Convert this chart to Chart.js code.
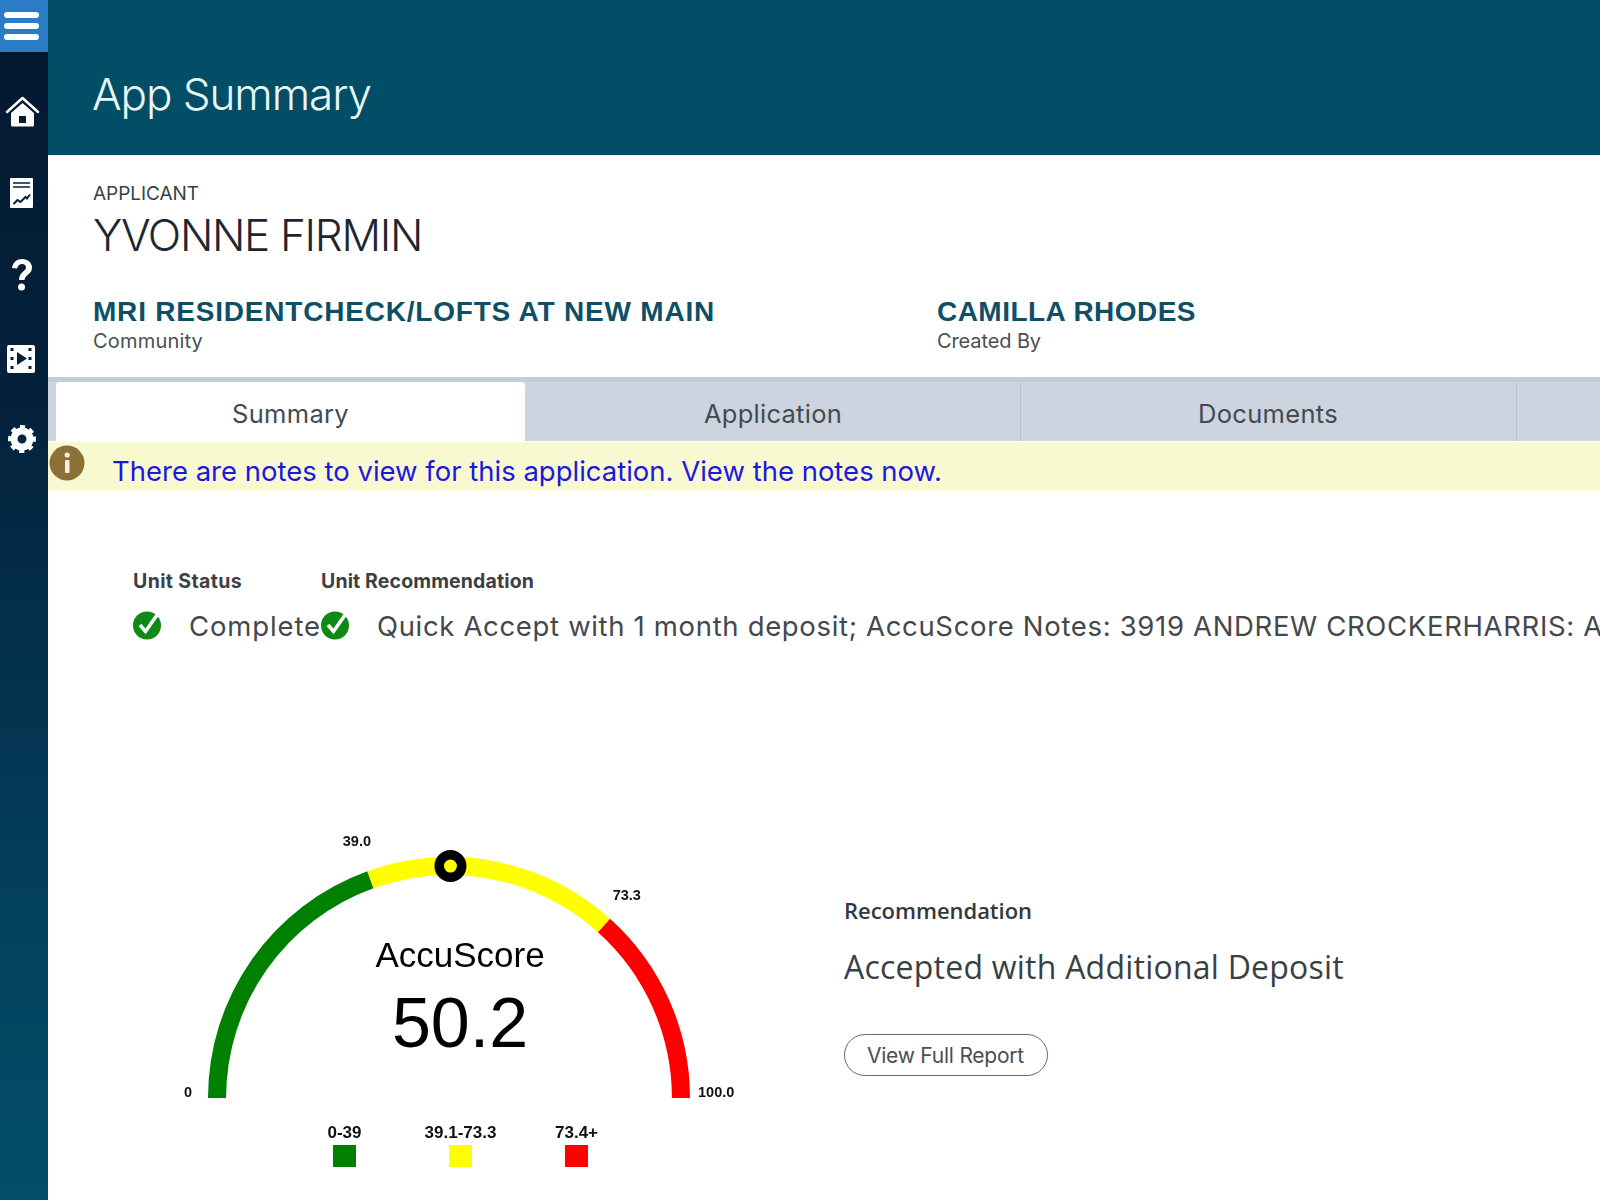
<!DOCTYPE html>
<html><head><meta charset="utf-8">
<script src="https://cdn.jsdelivr.net/npm/chart.js@4"></script>
<style>
html,body{margin:0;padding:0;background:#fff;width:1600px;height:1200px;overflow:hidden;font-family:Inter,"Open Sans",sans-serif}
.abs{position:absolute}
.t{position:absolute;white-space:nowrap;margin:0}
#side{left:0;top:0;width:48px;height:1200px;background:linear-gradient(180deg,#04182f 0%,#04223d 35%,#03405c 75%,#034f68 100%)}
#burger{left:0;top:0;width:48px;height:52px;background:#2a7cc7}
#burger i{position:absolute;left:4px;width:35px;height:6px;border-radius:3px;background:#fff}
#head{left:48px;top:0;width:1552px;height:155px;background:#024e66}
#tabs{left:48px;top:377px;width:1552px;height:64px;background:#cbd4df;border-top:5px solid #c3ced2;box-sizing:border-box}
.tab{position:absolute;top:382px;height:59px;border-right:1px solid #b9c3cf;box-sizing:border-box}
#note{left:48px;top:442px;width:1552px;height:49px;background:#f9f9d1}
#btn{left:844px;top:1034px;width:204px;height:42px;border:1.5px solid #5f6f78;border-radius:21px;box-sizing:border-box;background:#fff}
canvas{position:absolute;left:130px;top:800px}
</style></head>
<body>
<div class="abs" id="side"></div>
<div class="abs" id="burger"><i style="top:12px"></i><i style="top:23px"></i><i style="top:33.5px"></i></div>
<svg class="abs" style="left:0;top:85px" width="48" height="370" viewBox="0 85 48 370" fill="#fff">
  <path d="M7 112 L22.5 98 L38 112" fill="none" stroke="#fff" stroke-width="2.500" stroke-linecap="round" stroke-linejoin="round"/>
  <path d="M11 113 L22.5 103 L34 113 V125 a1.5 1.5 0 0 1-1.5 1.5 H12.5 a1.5 1.5 0 0 1-1.5-1.5 Z M19 116 v7 h7 v-7 Z" fill-rule="evenodd"/>
  <rect x="10" y="178" width="23" height="30" rx="1"/>
  <path d="M13 183 h17 M13 187 h17" stroke="#04203a" stroke-width="1.600" fill="none"/>
  <path d="M13.500 204 l4-4 3 2 5-5 1.500 1.500 3-4" fill="none" stroke="#04203a" stroke-width="2"/>
  <path d="M12 268 c1-6 5-9 10-9 c6 0 10 4 10 8.500 c0 7-7 7-7.500 12.500 h-5.500 c0-8 7-8.500 7-12.500 c0-2-1.500-3.500-4-3.500 c-2.500 0-4 1.500-5 4.500 Z"/>
  <circle cx="21.500" cy="287" r="3.500"/>
  <path d="M9 345 h24 a2 2 0 0 1 2 2 v24 a2 2 0 0 1-2 2 h-24 a2 2 0 0 1-2-2 v-24 a2 2 0 0 1 2-2 Z M10.500 348 v3 h3 v-3 Z M10.500 357 v3 h3 v-3 Z M10.500 366 v3 h3 v-3 Z M28.500 348 v3 h3 v-3 Z M28.500 357 v3 h3 v-3 Z M28.500 366 v3 h3 v-3 Z M17 352 v13 l10-6.500 Z" fill-rule="evenodd"/>
  <g transform="translate(22 439)" fill="none" stroke="#fff">
    <circle r="8" stroke-width="7"/>
    <circle r="11.500" stroke-width="5" stroke-dasharray="4.700 4.330" transform="rotate(-11)"/>
  </g>
</svg>
<div class="abs" id="head"></div>
<p class="t" data-w="279" style="left:92px;top:64px;line-height:60px;font-size:44px;font-weight:300;color:#e9f6f6">App Summary</p>
<p class="t" data-w="106" style="left:93px;top:183.500px;line-height:20px;font-size:19px;color:#3a3f44">APPLICANT</p>
<p class="t" data-w="329" style="left:93px;top:205px;line-height:60px;font-size:44px;font-weight:300;color:#1e2730">YVONNE FIRMIN</p>
<p class="t" data-w="622" style="left:93px;top:294px;line-height:36px;font-size:28px;font-weight:700;color:#0f4f66;font-family:'Liberation Sans'">MRI RESIDENTCHECK/LOFTS AT NEW MAIN</p>
<p class="t" data-w="259" style="left:937px;top:294px;line-height:36px;font-size:28px;font-weight:700;color:#0f4f66;font-family:'Liberation Sans'">CAMILLA RHODES</p>
<p class="t" data-w="110" style="left:93px;top:330px;line-height:22px;font-size:20px;color:#4a4f54">Community</p>
<p class="t" data-w="104" style="left:937px;top:330px;line-height:22px;font-size:20px;color:#4a4f54">Created By</p>
<div class="abs" id="tabs"></div>
<div class="abs" style="left:56px;top:382px;width:469px;height:60px;background:#fff;border-radius:3px 3px 0 0"></div>
<div class="tab" style="left:525px;width:496px"></div>
<div class="tab" style="left:1021px;width:496px"></div>
<p class="t" data-w="117" style="left:232px;top:398.500px;line-height:30px;font-size:25.5px;color:#444a50">Summary</p>
<p class="t" data-w="138" style="left:704px;top:398.500px;line-height:30px;font-size:25.5px;color:#444a50">Application</p>
<p class="t" data-w="140" style="left:1198px;top:398.500px;line-height:30px;font-size:25.5px;color:#444a50">Documents</p>
<div class="abs" id="note"></div>
<svg class="abs" style="left:49px;top:445px" width="36" height="36" viewBox="0 0 36 36"><circle cx="18" cy="18" r="17.500" fill="#8b7136"/><rect x="16" y="15" width="4.500" height="13" rx="1" fill="#f4efe0"/><circle cx="18.200" cy="10" r="2.600" fill="#f4efe0"/></svg>
<p class="t" data-w="830" style="left:112px;top:455px;line-height:32px;font-size:27.5px;color:#1c18de">There are notes to view for this application. View the notes now.</p>
<p class="t" data-w="109" style="left:133px;top:570px;line-height:22px;font-size:19.5px;font-weight:700;color:#3c4043">Unit Status</p>
<p class="t" data-w="213" style="left:321px;top:570px;line-height:22px;font-size:19.5px;font-weight:700;color:#3c4043">Unit Recommendation</p>
<svg class="abs" style="left:132px;top:610px" width="32" height="32" viewBox="0 0 32 32"><circle cx="15" cy="15.500" r="14" fill="#0f8a17"/><path d="M8 15 l5.500 6.500 L25 5" fill="none" stroke="#fff" stroke-width="3.500"/></svg>
<svg class="abs" style="left:320px;top:610px" width="32" height="32" viewBox="0 0 32 32"><circle cx="15" cy="15.500" r="14" fill="#0f8a17"/><path d="M8 15 l5.500 6.500 L25 5" fill="none" stroke="#fff" stroke-width="3.500"/></svg>
<p class="t" data-w="132" style="left:189px;top:609px;line-height:34px;font-size:27.5px;color:#44484c">Complete</p>
<p class="t" data-w="1226" style="left:377px;top:609px;line-height:34px;font-size:27.5px;color:#44484c">Quick Accept with 1 month deposit; AccuScore Notes: 3919 ANDREW CROCKERHARRIS: A</p>
<p class="t" data-w="188" style="left:844px;top:897px;line-height:26px;font-size:22px;font-weight:600;color:#33383c;font-family:'Open Sans'">Recommendation</p>
<p class="t" data-w="500" style="left:844px;top:945px;line-height:44px;font-size:32px;color:#3a3f44;font-family:'Open Sans'">Accepted with Additional Deposit</p>
<div class="abs" id="btn"></div>
<p class="t" data-w="157" style="left:867px;top:1044px;line-height:24px;font-size:21px;color:#4a4f54">View Full Report</p>

<canvas id="gauge" width="660" height="400" style="width:660px;height:400px"></canvas>
<script>
const bandLabels = ['0-39', '39.1-73.3', '73.4+'];
const bandValues = [39.0, 34.3, 26.7];
const bandColors = ['#008000', '#ffff00', '#ff0000'];
const tickLabels = ['0', '39.0', '73.3', '100.0'];
const tickValues = [0, 39.0, 73.3, 100.0];
const scoreTitle = 'AccuScore';
const scoreValue = 50.2;
const scoreMax = 100;

document.querySelectorAll('.t[data-w]').forEach(el => {
  const want = +el.dataset.w, n = el.textContent.length;
  const have = el.getBoundingClientRect().width;
  el.style.letterSpacing = ((want - have) / n).toFixed(3) + 'px';
});

const gaugePlugin = {
  id: 'gauge',
  afterDraw(chart) {
    const arc = chart.getDatasetMeta(0).data[0];
    const cx = arc.x, cy = arc.y, R = arc.outerRadius, r = arc.innerRadius;
    const ctx = chart.ctx;
    const pos = (v, rad) => {
      const a = Math.PI * (1 - v / scoreMax);
      return [cx + Math.cos(a) * rad, cy - Math.sin(a) * rad];
    };
    ctx.save();
    ctx.textBaseline = 'middle';
    ctx.fillStyle = '#111';
    ctx.font = 'bold 14.5px "Liberation Sans"';
    tickValues.forEach((v, i) => {
      let [x, y] = pos(v, R + 31);
      if (i === 0) { ctx.textAlign = 'right'; x = cx - R - 16; y = cy - 5; }
      else if (i === tickValues.length - 1) { ctx.textAlign = 'left'; x = cx + R + 8; y = cy - 5; }
      else { ctx.textAlign = 'center'; if (i === 2) x -= 4; }
      ctx.fillText(tickLabels[i], x, y);
    });
    // score marker
    const [mx, my] = pos(scoreValue, (R + r) / 2);
    let sum = 0, idx = 0;
    for (let i = 0; i < bandValues.length; i++) { sum += bandValues[i]; if (scoreValue <= sum) { idx = i; break; } }
    ctx.beginPath(); ctx.arc(mx, my, 16, 0, Math.PI * 2); ctx.fillStyle = '#000'; ctx.fill();
    ctx.beginPath(); ctx.arc(mx, my, 6.5, 0, Math.PI * 2); ctx.fillStyle = bandColors[idx]; ctx.fill();
    // centre text
    const tx = cx + 11;
    ctx.textAlign = 'center'; ctx.textBaseline = 'alphabetic'; ctx.fillStyle = '#000';
    ctx.font = '35px "Liberation Sans"';
    ctx.fillText(scoreTitle, tx, cy - 131);
    ctx.font = '70px "Liberation Sans"';
    ctx.fillText(scoreValue.toFixed(1), tx, cy - 51);
    // legend
    const step = 116;
    bandLabels.forEach((lab, i) => {
      const lx = tx + 0.5 + (i - 1) * step;
      ctx.fillStyle = '#111';
      ctx.font = 'bold 17px "Liberation Sans"';
      ctx.textBaseline = 'middle';
      ctx.fillText(lab, lx, cy + 35);
      ctx.fillStyle = bandColors[i];
      ctx.fillRect(lx - 11.5, cy + 47, 23, 22);
    });
    ctx.restore();
  }
};

new Chart(document.getElementById('gauge'), {
  type: 'doughnut',
  data: {
    labels: bandLabels,
    datasets: [{ data: bandValues, backgroundColor: bandColors, borderWidth: 0, hoverOffset: 0 }]
  },
  options: {
    responsive: false,
    animation: false,
    rotation: -90,
    circumference: 180,
    cutout: '92.5%',
    layout: { padding: { left: 78, right: 100, top: 57, bottom: 102 } },
    plugins: { legend: { display: false }, tooltip: { enabled: false } }
  },
  plugins: [gaugePlugin]
});
</script>
</body></html>
